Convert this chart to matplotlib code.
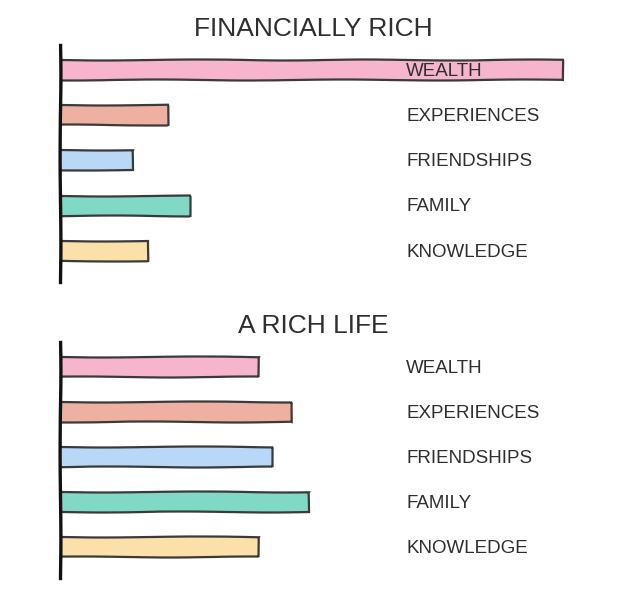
import matplotlib.pyplot as plt
import numpy as np

categories = ["WEALTH", "EXPERIENCES", "FRIENDSHIPS", "FAMILY", "KNOWLEDGE"]
financially_rich = [100, 21.5, 14.5, 25.8, 17.5]
rich_life = [39.6, 46.1, 42.3, 49.5, 39.6]
colors = ["#f7b5cd", "#eeb1a1", "#b9d7f6", "#7fd9c4", "#fbe0aa"]

plt.rcParams['font.family'] = ['Liberation Sans', 'DejaVu Sans']
np.random.seed(3)

fig = plt.figure(figsize=(6.26, 6.0), dpi=100)
fig.patch.set_facecolor("white")


def panel(rect, values, title, title_y):
    ax = fig.add_axes(rect)
    y = np.arange(len(categories))
    bars = ax.barh(y, values, height=0.44, color=colors,
                   edgecolor="#3a3a3a", linewidth=1.6)
    for b in bars:
        b.set_sketch_params(scale=0.5, length=220, randomness=3)
    ax.set_xlim(0, 112.5)
    ax.set_ylim(4.69, -0.55)
    for i, lab in enumerate(categories):
        ax.text(68.8, i + 0.03, lab, va="center", ha="left", fontsize=13.5,
                color="#2e2e2e")
    for s in ["top", "right", "bottom"]:
        ax.spines[s].set_visible(False)
    ax.spines["left"].set_linewidth(2.4)
    ax.spines["left"].set_color("#111111")
    ax.spines["left"].set_sketch_params(scale=0.4, length=200, randomness=3)
    ax.set_xticks([])
    ax.set_yticks([])
    ax.patch.set_alpha(0)
    fig.text(0.5, title_y, title, ha="center", va="center", fontsize=19,
             color="#2e2e2e")
    return ax


panel([0.0958, 0.53, 0.9042, 0.395], financially_rich, "FINANCIALLY RICH", 0.952)
panel([0.0958, 0.037, 0.9042, 0.393], rich_life, "A RICH LIFE", 0.457)

fig.savefig("out.png", dpi=100, facecolor="white")
